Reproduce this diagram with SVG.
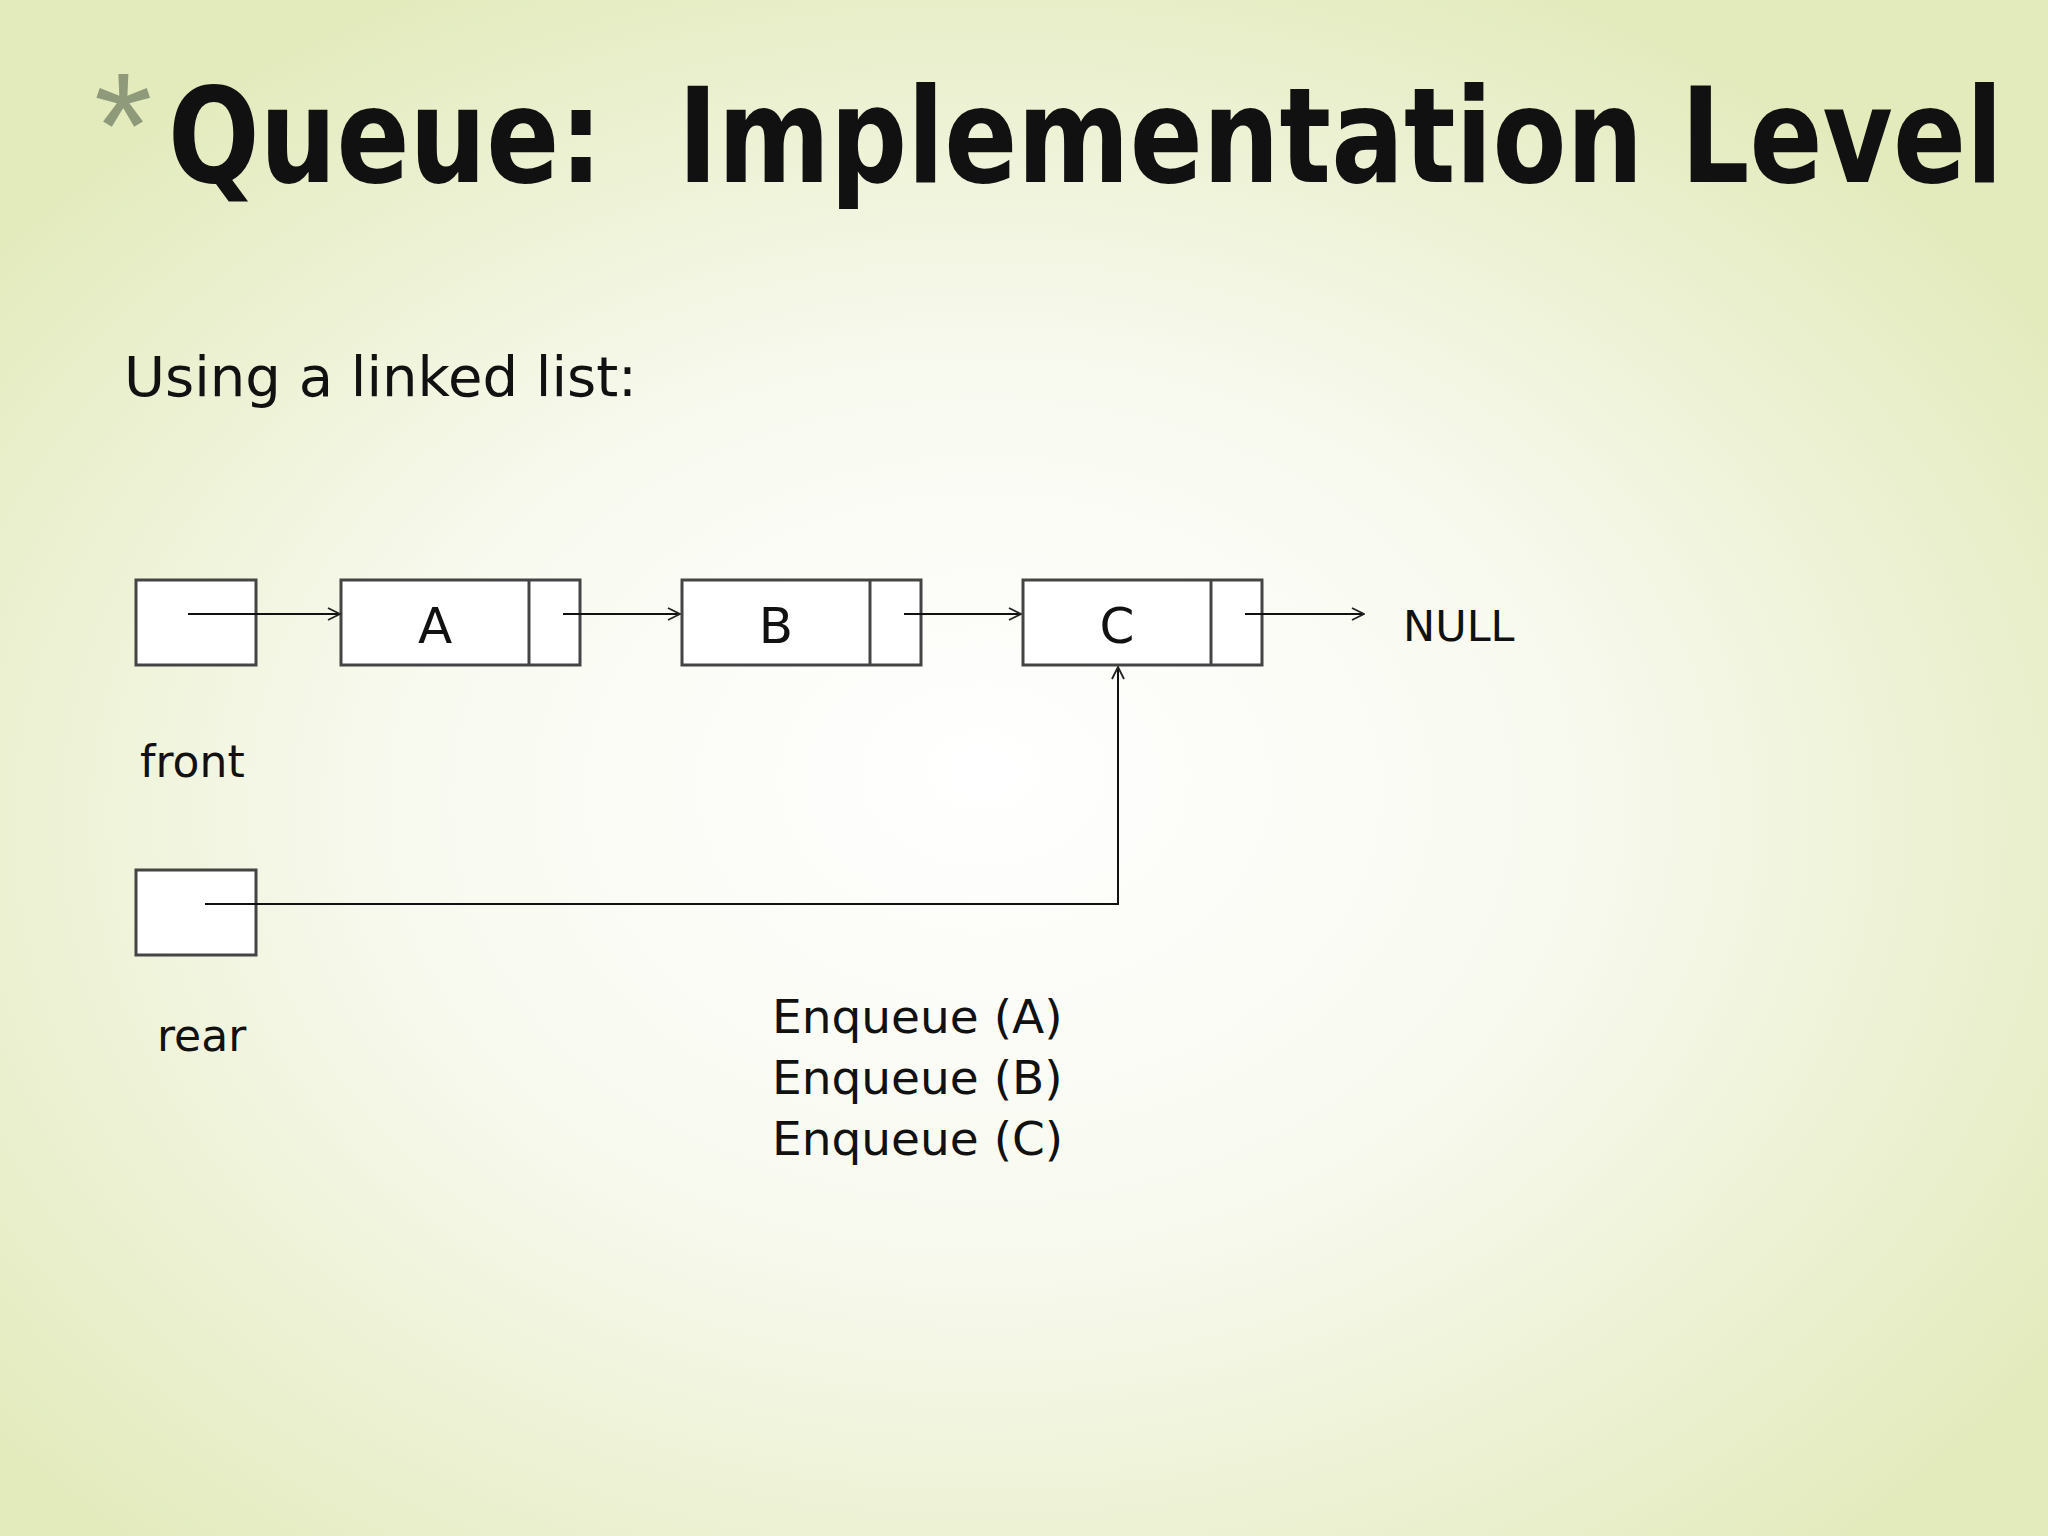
<svg xmlns="http://www.w3.org/2000/svg" width="2048" height="1536" viewBox="0 0 2048 1536">
<defs>
<radialGradient id="bg" cx="0.48" cy="0.55" r="0.62" fx="0.48" fy="0.5">
<stop offset="0" stop-color="#ffffff"/>
<stop offset="0.45" stop-color="#f8faf0"/>
<stop offset="1" stop-color="#e3ebbd"/>
</radialGradient>
<marker id="ah" markerWidth="14" markerHeight="14" refX="13" refY="7" orient="auto" markerUnits="userSpaceOnUse">
<path d="M1,1 L13,7 L1,13" fill="none" stroke="#222" stroke-width="1.8"/>
</marker>
<style>
.box{fill:#fff;stroke:#444;stroke-width:3}
.ln{fill:none;stroke:#111;stroke-width:2}
.t{font-family:"DejaVu Sans","Liberation Sans",sans-serif;fill:#111}
</style>
</defs>
<rect width="2048" height="1536" fill="url(#bg)"/>
<text x="94" y="178" font-family="Liberation Sans,sans-serif" font-size="150" fill="#8f9a7a">*</text>
<text class="t" x="168" y="182" font-size="132" font-weight="bold" textLength="1835" lengthAdjust="spacingAndGlyphs" xml:space="preserve">Queue:  Implementation Level</text>
<text class="t" x="124" y="396" font-size="56" textLength="513" lengthAdjust="spacingAndGlyphs">Using a linked list:</text>
<g id="front"><rect class="box" x="136" y="580" width="120" height="85"/></g>
<g id="nodeA"><rect class="box" x="341" y="580" width="239" height="85"/><line x1="529" y1="580" x2="529" y2="665" stroke="#444" stroke-width="3"/><text class="t" x="435" y="643" font-size="50" text-anchor="middle">A</text></g>
<g id="nodeB"><rect class="box" x="682" y="580" width="239" height="85"/><line x1="870" y1="580" x2="870" y2="665" stroke="#444" stroke-width="3"/><text class="t" x="776" y="643" font-size="50" text-anchor="middle">B</text></g>
<g id="nodeC"><rect class="box" x="1023" y="580" width="239" height="85"/><line x1="1211" y1="580" x2="1211" y2="665" stroke="#444" stroke-width="3"/><text class="t" x="1117" y="643" font-size="50" text-anchor="middle">C</text></g>
<g id="rear"><rect class="box" x="136" y="870" width="120" height="85"/></g>
<text class="t" x="1403" y="641" font-size="43">NULL</text>
<text class="t" x="140" y="777" font-size="44">front</text>
<text class="t" x="157" y="1051" font-size="44">rear</text>
<text class="t" x="772" y="1033" font-size="47">Enqueue (A)</text>
<text class="t" x="772" y="1094" font-size="47">Enqueue (B)</text>
<text class="t" x="772" y="1155" font-size="47">Enqueue (C)</text>
<g id="connectors">
<line class="ln" x1="188" y1="614" x2="340" y2="614" marker-end="url(#ah)"/>
<line class="ln" x1="563" y1="614" x2="680" y2="614" marker-end="url(#ah)"/>
<line class="ln" x1="904" y1="614" x2="1021" y2="614" marker-end="url(#ah)"/>
<line class="ln" x1="1245" y1="614" x2="1364" y2="614" marker-end="url(#ah)"/>
<polyline class="ln" points="205,904 1118,904 1118,667" marker-end="url(#ah)"/>
</g>
</svg>
